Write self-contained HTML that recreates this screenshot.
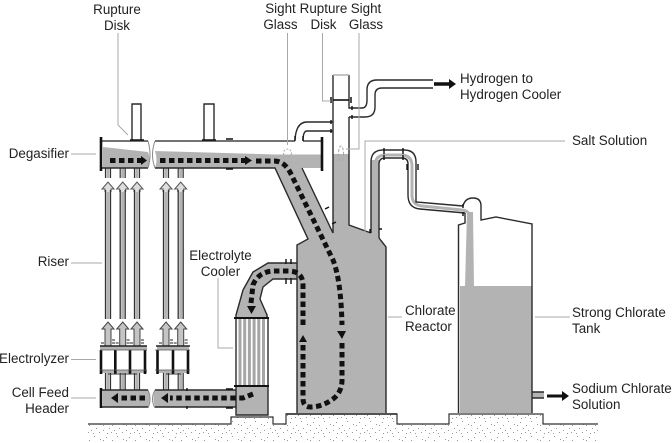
<!DOCTYPE html>
<html><head><meta charset="utf-8"><style>
html,body{margin:0;padding:0;background:#fff;width:672px;height:443px;overflow:hidden}
svg{display:block}
text{font-family:"Liberation Sans",sans-serif;font-size:13.4px;fill:#222}
</style></head><body>
<svg width="672" height="443" viewBox="0 0 672 443" xmlns="http://www.w3.org/2000/svg">
<defs>
<pattern id="st" width="23" height="15" patternUnits="userSpaceOnUse">
<g fill="#999">
<rect x="2" y="1" width="1" height="1"/><rect x="8" y="4" width="1" height="1"/><rect x="14" y="2" width="1" height="1"/><rect x="20" y="5" width="1" height="1"/>
<rect x="4" y="8" width="1" height="1"/><rect x="11" y="10" width="1" height="1"/><rect x="17" y="8" width="1" height="1"/><rect x="22" y="10" width="1" height="1"/>
<rect x="1" y="13" width="1" height="1"/><rect x="7" y="12" width="1" height="1"/><rect x="15" y="13" width="1" height="1"/><rect x="19" y="12" width="1" height="1"/>
<rect x="11" y="5" width="1" height="1"/>
</g>
</pattern>
<g id="riser">
<rect x="-1.5" y="168" width="3" height="10" fill="#b3b3b3"/>
<path d="M-2.500 168V178M2.500 168V178" stroke="#333" stroke-width="1.2" fill="none"/>
<rect x="-1.5" y="190" width="3" height="129" fill="#b3b3b3"/>
<path d="M-3 192V189H-6L0 182L6 189H3V192" fill="#ddd" stroke="#555" stroke-width="1"/>
<path d="M-2.500 190V319M2.500 190V319" stroke="#333" stroke-width="1.3" fill="none"/>
<path d="M0 322L6 329H3V346H-3V329H-6Z" fill="#c4c4c4" stroke="#444" stroke-width="1"/>
<path d="M4 340H7M4 343H7M-4 343H-7" stroke="#222" stroke-width="1"/>
<rect x="-1.5" y="370" width="3" height="21" fill="#b3b3b3"/>
<path d="M-2.500 372V390M2.500 372V390" stroke="#333" stroke-width="1.2" fill="none"/>
</g>
</defs>

<!-- ground -->
<path d="M88 424H231V417H273V424H286V414H397V424H449V414H543V424H598V443H88Z" fill="url(#st)"/>
<path d="M88 424H231V417H273V424H286V414H397V424H449V414H543V424H598" fill="none" stroke="#333" stroke-width="1.2"/>

<!-- gray fluids -->
<g fill="#b3b3b3">
<path d="M103 147L148 152Q151 160 148 168H103Z"/>
<path d="M155 151L275 154.500H322V168H302L333 233V154H349V225L371 233V160H379V238L386 247V413H297V245L308 239L275 168H155Q158 160 155 151Z"/>
<path d="M297 263H268L253 272L243 290L236 315V318H268V315L260 299L263 287L273 279H297Z"/>
<path d="M236 386H268V415H236V407H155Q152 398 155 390H236Z"/>
<path d="M103 390H148Q151 398 148 407H103Z"/>
<rect x="460" y="286" width="72" height="127"/>
<path d="M467 212H473L474 287H465Z"/>
<rect x="532" y="392" width="12" height="6"/>
</g>
<g fill="#a6a6a6">
<rect x="238.500" y="318" width="3" height="68"/><rect x="243.200" y="318" width="3" height="68"/><rect x="247.900" y="318" width="3" height="68"/><rect x="252.600" y="318" width="3" height="68"/><rect x="257.300" y="318" width="3" height="68"/><rect x="262" y="318" width="3" height="68"/>
</g>

<!-- salt pipe gray stream -->
<path d="M375 236V166Q375 155 386 155H401Q412 155 412 166V195Q412 205 422 206L462 210Q470 211 470 218" fill="none" stroke="#b3b3b3" stroke-width="3"/>

<!-- risers -->
<use href="#riser" x="108"/><use href="#riser" x="122.700"/><use href="#riser" x="137"/><use href="#riser" x="166"/><use href="#riser" x="180.700"/>

<!-- electrolyzer -->
<g fill="#b3b3b3"><rect x="100" y="346" width="47" height="4"/><rect x="157" y="346" width="32" height="4"/><rect x="100" y="370" width="47" height="3"/><rect x="157" y="370" width="32" height="3"/></g>
<path d="M101 350V374M115.300 350V374M130 350V374M145 350V374M157.500 350V374M173 350V374M188 350V374" stroke="#111" stroke-width="2.600" fill="none"/>
<path d="M100 350H147M155 350H190M100 370H147M155 370H190" stroke="#555" stroke-width=".8"/>
<path d="M100 346H147M156 346H190" stroke="#222" stroke-width="1.400"/>
<path d="M108 374H137M166 374H181" stroke="#333" stroke-width="1" fill="none"/>

<!-- main outlines -->
<g fill="none" stroke="#2a2a2a" stroke-width="1.400">
<path d="M101 141H148M155 141H295M303 141H322" stroke="#444"/>
<path d="M101 168H148M155 168H275L308 239L297 245V413M302 168L333 233V75M349 75V108H362Q367 108 367 100V90Q367 80 377 80H433"/>
<path d="M333 75H349" stroke="#aaa"/>
<path d="M349 117H365Q375 117 375 107V95Q375 88 382 88H433M349 117V225L371 233"/>
<path d="M333 122H307Q296 122 295 140M333 131H307Q303 131 303 141"/>
<path d="M132 140V104H141V140M204 140V104H214V140"/>
<path d="M371 233V162Q371 150 383 150H404Q416 150 416 162V202L463 206M379 238V164Q379 158 385 158H402Q408 158 408 164V195Q408 208 420 209L465 213"/>
<path d="M379 238L386 247V413M297 263H268L253 272L243 290L236 315V415H268V318M297 279H273L263 287L260 299L267 315V318"/>
<path d="M463 206Q465 198 473 198Q481 198 481 206V220L496 217L532 224V413M458.500 413V225L465 223V213"/>
<path d="M101 390H148M155 390H236M101 407H148M155 407H236M532 392H544M532 398H544"/>
<path d="M286 414H397"/>
</g>
<path d="M148 141Q152 155 148 168M155 141Q150 155 155 168M148 390Q152 399 148 408M155 390Q150 399 155 408" fill="none" stroke="#888" stroke-width="1"/>

<!-- flanges -->
<g stroke="#111" fill="none">
<path d="M101 137V171M322 137V171M101 388V408" stroke-width="2.600"/>
<path d="M234 318H269M234 386H269" stroke-width="2"/>
<path d="M333 100H349" stroke-width="1.600"/>
<path d="M331 97V103M351 97V103M130 140H144M202 140H216M226 139H233M226 169H233M226 389H233M226 408H233" stroke-width="1.500"/>
<path d="M295 136V141M303 136V141M331 120V124M331 129V133M352 106V110M352 115V119M384 148V154M403 148V154M384 155V160M403 155V160M407 164V170M418 164V170M463 204V208M463 212V216M286 259V264M291 259V264M286 278V284M291 278V284M187 388V391M187 406V409" stroke-width="1.400"/>
<path d="M325 209L329 207M332 224L336 222M370 229L370 233M379 229L382 229" stroke-width="1.400"/>
</g>

<!-- dashed flow -->
<g fill="none" stroke="#111" stroke-width="5">
<path d="M110 160.500H141" stroke-dasharray="5.500 3.500"/>
<path d="M160 160.500H245" stroke-dasharray="5.500 3.500"/>
<path d="M256 161H274Q284 161 290 172L333 260Q341 280 342 325" stroke-dasharray="5.500 3.500"/>
<path d="M342 343V380Q342 392 333 399Q322 407 310 407Q303 407 303 398V343" stroke-dasharray="5.500 3.500"/>
<path d="M303 325V285Q303 272 290 271H273Q258 272 253 285L251 303" stroke-dasharray="5.500 3.500"/>
<path d="M253 394L243 398H170" stroke-dasharray="5.500 3.500"/>
<path d="M145 398H118" stroke-dasharray="5.500 3.500"/>
</g>
<g fill="#111">
<path d="M141 156L147 160.500L141 165Z"/>
<path d="M245 156L252 160.500L245 165Z"/>
<path d="M337 331H346L342 339Z"/>
<path d="M299 342H307L303 335Z"/>
<path d="M247 306H256L251.500 314Z"/>
<path d="M168 393V403L161 398Z"/>
<path d="M118 393V403L111 398Z"/>
</g>

<!-- output arrows -->
<path d="M434 84H449" stroke="#111" stroke-width="3.500"/><path d="M449 79L456 84L449 89Z" fill="#111"/>
<path d="M547 396H562" stroke="#111" stroke-width="3"/><path d="M562 391L569 396L562 401Z" fill="#111"/>

<!-- leaders -->
<g fill="none" stroke="#a8a8a8" stroke-width="1">
<path d="M118 33V125L128 135"/>
<path d="M287.500 33V145"/>
<path d="M322.500 33V101H331"/>
<path d="M359 33V149H346"/>
<path d="M565 141H365V232"/>
<path d="M71 154H96M71 263H102M71 359.500H96M71 398H96M218 278V348H233M388 317H402M535 317H570"/>
<circle cx="287.500" cy="153" r="4" stroke-dasharray="2 1.500"/>
<ellipse cx="341" cy="153.500" rx="2.500" ry="7.500" stroke-dasharray="3 1.500"/>
</g>

<!-- labels -->
<text x="117" y="14" text-anchor="middle">Rupture</text>
<text x="117" y="30" text-anchor="middle">Disk</text>
<text x="280.500" y="13" text-anchor="middle">Sight</text>
<text x="280.500" y="29" text-anchor="middle">Glass</text>
<text x="323.500" y="13" text-anchor="middle">Rupture</text>
<text x="323.500" y="29" text-anchor="middle">Disk</text>
<text x="366" y="13" text-anchor="middle">Sight</text>
<text x="366" y="29" text-anchor="middle">Glass</text>
<text x="460" y="83">Hydrogen to</text>
<text x="460" y="99">Hydrogen Cooler</text>
<text x="572" y="145">Salt Solution</text>
<text x="69" y="158" text-anchor="end">Degasifier</text>
<text x="69" y="266" text-anchor="end">Riser</text>
<text x="69" y="363" text-anchor="end">Electrolyzer</text>
<text x="69" y="397" text-anchor="end">Cell Feed</text>
<text x="69" y="413" text-anchor="end">Header</text>
<text x="220.500" y="260" text-anchor="middle">Electrolyte</text>
<text x="220.500" y="276" text-anchor="middle">Cooler</text>
<text x="405" y="315">Chlorate</text>
<text x="405" y="331">Reactor</text>
<text x="572" y="317">Strong Chlorate</text>
<text x="572" y="333">Tank</text>
<text x="572" y="393">Sodium Chlorate</text>
<text x="572" y="409">Solution</text>
</svg>
</body></html>
